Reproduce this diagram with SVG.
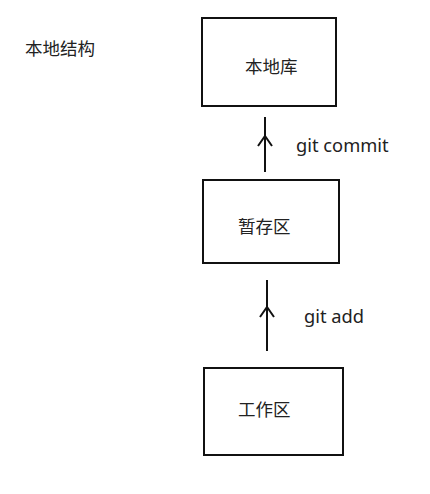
<svg xmlns="http://www.w3.org/2000/svg" width="430" height="494" viewBox="0 0 430 494">
<style>
.box{fill:#fff;stroke:#111;stroke-width:2}
.t{font-family:"Noto Sans","Noto Sans CJK SC",sans-serif;font-size:17.5px;fill:#222}
.l{font-size:18.3px}
.c{stroke:#111;stroke-width:2;fill:none}
</style>
<rect width="430" height="494" fill="#fff"/>
<text class="t" x="25" y="55">本地结构</text>
<g id="local-repo">
<rect class="box" x="202" y="18" width="134" height="88"/>
<text class="t" x="245" y="73">本地库</text>
</g>
<g id="staging">
<rect class="box" x="203" y="180" width="136" height="83"/>
<text class="t" x="238" y="233">暂存区</text>
</g>
<g id="workspace">
<rect class="box" x="204" y="368" width="139" height="87"/>
<text class="t" x="238" y="416">工作区</text>
</g>
<g id="connectors">
<line class="c" x1="265" y1="117" x2="265" y2="172"/>
<path class="c" d="M258 146 L265 136 L272 146"/>
<line class="c" x1="267" y1="280" x2="267" y2="351"/>
<path class="c" d="M260 317 L267 307 L274 317"/>
<text class="t l" x="296" y="152">git commit</text>
<text class="t l" x="304" y="323">git add</text>
</g>
</svg>
